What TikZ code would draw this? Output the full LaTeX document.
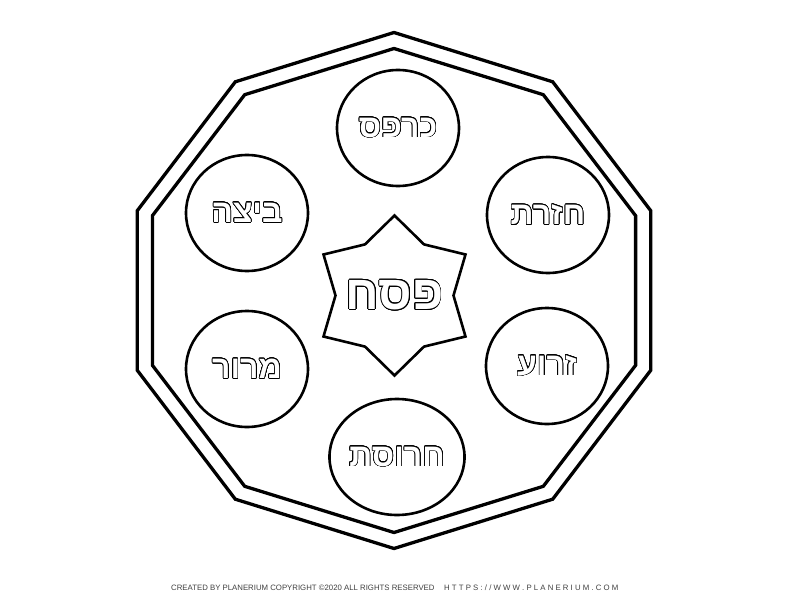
\documentclass[tikz,border=0pt]{standalone}
\usepackage{fontspec}
\usepackage{contour}
\usetikzlibrary{shapes.geometric}
\TeXXeTstate=1
\newfontfamily\hebfont[Script=Hebrew]{Liberation Sans}
\newfontfamily\footfont{Liberation Sans}
\contourlength{0.7pt}
\contournumber{24}
\newcommand{\hebword}[1]{{\hebfont\bfseries\color{white}\contour{black}{\beginR #1\endR}}}

\begin{document}
\begin{tikzpicture}[x=1pt, y=-1pt,
    rim/.style={line width=3.3pt, line join=miter},
    dish/.style={ellipse, draw, line width=2.6pt, minimum width=122pt, minimum height=116pt, inner sep=0pt, font=\fontsize{32}{32}\selectfont},
    credit/.style={font=\footfont\fontsize{7.8}{8}\selectfont, text=black!75, inner sep=0pt}]
        \useasboundingbox (0,0) rectangle (788,608);

        % plate rims
        \draw[rim] (394,32.5) -- (235.3,81.8) -- (137.2,210.8) -- (137.2,370.2) -- (235.3,499.2)
            -- (394,548.5) -- (552.7,499.2) -- (650.8,370.2) -- (650.8,210.8) -- (552.7,81.8) -- cycle;
        \draw[rim] (394,48.5) -- (244.7,94.7) -- (152.4,215.7) -- (152.4,365.3) -- (244.7,486.3)
            -- (394,532.5) -- (543.3,486.3) -- (635.6,365.3) -- (635.6,215.7) -- (543.3,94.7) -- cycle;

        % centre star
        \draw[line width=2.6pt, line join=miter] (394.5,215.5) -- (365,244.4) -- (323.5,254.5) -- (335.5,295.5)
            -- (323.5,336.5) -- (365,346.6) -- (394.5,375.5) -- (424,346.6) -- (465.5,336.5)
            -- (453.5,295.5) -- (465.5,254.5) -- (424,244.4) -- cycle;
        \node[font=\fontsize{48}{48}\selectfont] (pesach) at (394.5,295.5) {\hebword{פסח}};

        % the six dishes
        \node[dish] (karpas) at (398,128) {\hebword{כרפס}};
        \node[dish] (beitzah) at (247,213) {\hebword{ביצה}};
        \node[dish] (chazeret) at (548,215) {\hebword{חזרת}};
        \node[dish] (maror) at (247,369) {\hebword{מרור}};
        \node[dish] (zeroa) at (547,366) {\hebword{זרוע}};
        \node[dish] (charoset) at (397,457) {\hebword{חרוסת}};

        % footer
        \node[credit, anchor=west] (made) at (171,588) {CREATED BY PLANERIUM COPYRIGHT ©2020 ALL RIGHTS RESERVED};
        \node[credit, anchor=west] (site) at (444,588) {H T T P S : / / W W W . P L A N E R I U M . C O M};

    \end{tikzpicture}
\end{document}
